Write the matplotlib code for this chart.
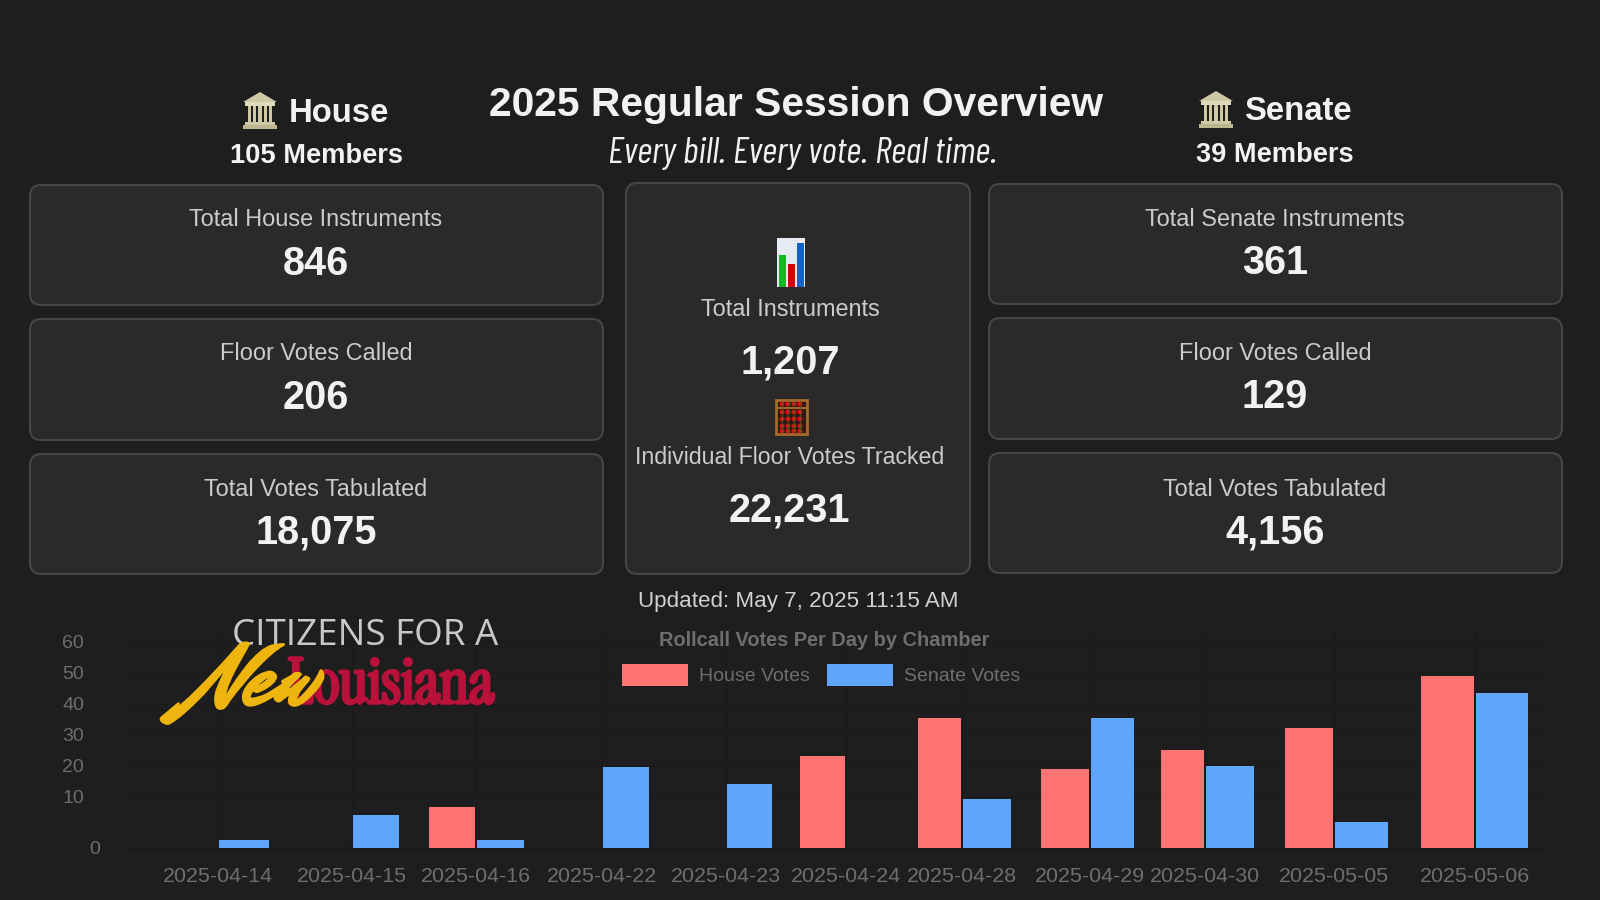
import matplotlib
matplotlib.use("Agg")
import matplotlib.pyplot as plt
import matplotlib.patheffects as pe
import numpy as np
from matplotlib.patches import FancyBboxPatch, Rectangle, Polygon, Circle
from matplotlib.transforms import ScaledTranslation

# values
dates = ["2025-04-14", "2025-04-15", "2025-04-16", "2025-04-22", "2025-04-23", "2025-04-24",
         "2025-04-28", "2025-04-29", "2025-04-30", "2025-05-05", "2025-05-06"]
house_votes = [0, 0, 8, 0, 0, 23, 35.5, 19, 25, 32, 49]
senate_votes = [1.5, 6.5, 1.5, 19.5, 14, 0, 9.5, 35.5, 20, 5, 43.5]
y_ticks = [0, 10, 20, 30, 40, 50, 60]

house_labels = ["Total House Instruments", "Floor Votes Called", "Total Votes Tabulated"]
house_stats = ["846", "206", "18,075"]
senate_labels = ["Total Senate Instruments", "Floor Votes Called", "Total Votes Tabulated"]
senate_stats = ["361", "129", "4,156"]

BG = "#1e1e1e"
CARD = "#2a2a2a"
EDGE = "#464646"
RED = "#ff7373"
BLUE = "#60a5fa"
MUTED = "#6e6e6e"
SANS = ["Liberation Sans", "DejaVu Sans"]
NARROW = ["Barlow Condensed", "Open Sans"]

plt.rcParams["font.family"] = SANS

fig = plt.figure(figsize=(16, 9), dpi=100, facecolor=BG)

# page layer in pixel coordinates
page = fig.add_axes([0, 0, 1, 1], zorder=1)
page.set_xlim(0, 1600)
page.set_ylim(900, 0)
page.axis("off")


def card(x0, y0, x1, y1):
    page.add_patch(FancyBboxPatch((x0, y0), x1 - x0, y1 - y0, boxstyle="round,pad=0,rounding_size=11",
                                  fc=CARD, ec=EDGE, lw=1.5))


def label(x, y, s, size=16.9, color="#cccccc", weight="normal"):
    page.text(x, y, s, ha="center", va="center", fontsize=size, color=color, fontweight=weight)


def value(x, y, s):
    page.text(x, y, s, ha="center", va="center", fontsize=28.5, color="#f2f2f2", fontweight="bold")


def building(x, y):
    # little capitol icon
    c = "#cfc8a4"
    page.add_patch(Polygon([[x, y + 10], [x + 17, y], [x + 34, y + 10]], fc=c, ec="none"))
    page.add_patch(Rectangle((x + 2, y + 10), 30, 4, fc="#e0dabb", ec="none"))
    for k in range(5):
        page.add_patch(Rectangle((x + 5 + k * 5.2, y + 14), 3.2, 16, fc=c, ec="none"))
    page.add_patch(Rectangle((x + 2, y + 30), 30, 3, fc=c, ec="none"))
    page.add_patch(Rectangle((x, y + 33), 34, 3.5, fc="#bdb690", ec="none"))


# left column
for (y0, y1), name, stat in zip([(185, 305), (319, 440), (454, 574)], house_labels, house_stats):
    card(30, y0, 603, y1)
    label(316, y0 + 35, name)
    value(316, y0 + 79, stat)

# right column
for (y0, y1), name, stat in zip([(184, 304), (318, 439), (453, 573)], senate_labels, senate_stats):
    card(989, y0, 1562, y1)
    label(1275, y0 + 36, name)
    value(1275, y0 + 79, stat)

# middle column
card(626, 183, 970, 574)
label(790, 309, "Total Instruments")
value(790, 363, "1,207")
label(790, 457, "Individual Floor Votes Tracked", size=16.7)
value(789, 511, "22,231")

# chart icon
page.add_patch(Rectangle((777, 238), 28, 49, fc="#e6ebf3", ec="none"))
page.add_patch(Rectangle((779, 255), 6.5, 32, fc="#10b82a", ec="none"))
page.add_patch(Rectangle((788, 264), 6.5, 23, fc="#c40a0a", ec="none"))
page.add_patch(Rectangle((797, 243), 6.5, 44, fc="#0f62c8", ec="none"))

# abacus icon
page.add_patch(Rectangle((776, 400), 31, 34, fc="#2b1c14", ec="#a8692a", lw=2))
page.plot([776, 807], [408, 408], color="#a8692a", lw=1.5)
for px in [782, 788, 794, 800]:
    page.plot([px, px], [401, 433], color="#6b4a2a", lw=0.6)
    for py in [404, 412, 419, 426, 431]:
        page.add_patch(Circle((px, py), 2.4, fc="#e01010", ec="none"))

# headers
building(243, 92)
page.text(339, 113, "House", ha="center", va="center", fontsize=23.7, color="#f2f2f2", fontweight="bold")
label(316, 156, "105 Members", size=19.6, color="#f2f2f2", weight="bold")
building(1199, 91)
page.text(1298, 112, "Senate", ha="center", va="center", fontsize=23.7, color="#f2f2f2", fontweight="bold")
label(1275, 155, "39 Members", size=19.6, color="#f2f2f2", weight="bold")
label(796, 105, "2025 Regular Session Overview", size=29.3, color="#f2f2f2", weight="bold")
page.text(802, 154, "Every bill. Every vote. Real time.", ha="center", va="center", fontsize=26.8,
          color="#f2f2f2", style="italic", family=NARROW)
label(798, 601, "Updated: May 7, 2025 11:15 AM", size=16.1, color="#d0d0d0")

# chart: both axes are bent the way the picture is bent
chart = fig.add_axes([127 / 1600, (900 - 848) / 900, (1545 - 127) / 1600, (848 - 632) / 900], zorder=2)
chart.patch.set_alpha(0)

x_in = [-1, 0, 1, 2, 3, 4, 5, 6, 7, 8, 9, 10, 11]
x_out = [84, 218, 352, 476, 602, 726, 846, 962, 1090, 1205, 1334, 1475, 1615]
y_in = [0, 10, 60, 70]
y_out = [0, 51, 206, 237]

chart.set_xscale("function", functions=(lambda v: np.interp(v, x_in, x_out),
                                        lambda v: np.interp(v, x_out, x_in)))
chart.set_yscale("function", functions=(lambda v: np.interp(v, y_in, y_out),
                                        lambda v: np.interp(v, y_out, y_in)))

pos = np.arange(len(dates))
chart.bar(pos - 0.195, house_votes, width=0.37, color=RED, label="House Votes", zorder=3)
chart.bar(pos + 0.195, senate_votes, width=0.37, color=BLUE, label="Senate Votes", zorder=3)

chart.set_xlim(-0.68, 10.5)
chart.set_ylim(0, 63)
chart.set_xticks(pos, dates)
chart.set_yticks(y_ticks)
chart.minorticks_off()
chart.tick_params(axis="x", length=0, pad=14, labelsize=15.4, labelcolor=MUTED)
chart.tick_params(axis="y", length=0, pad=31, labelsize=14, labelcolor=MUTED)
zero_label = chart.yaxis.get_ticklabels()[0]
zero_label.set_transform(zero_label.get_transform() + ScaledTranslation(16 / 100, 0, fig.dpi_scale_trans))
chart.grid(True, color="#1a1a1a", lw=1, zorder=0)
for side in ["top", "right", "left"]:
    chart.spines[side].set_visible(False)
chart.spines["bottom"].set_color("#191919")

chart.legend(loc="center", bbox_to_anchor=((821 - 127) / 1418, (848 - 675) / 216), ncols=2,
             frameon=True, facecolor=BG, edgecolor="none", framealpha=1,
             fontsize=14, labelcolor=MUTED, handlelength=3.4, handleheight=1.4, handletextpad=0.55,
             columnspacing=0.9, borderpad=0.1)

# logo and chart title on top
logo = fig.add_axes([0, 0, 1, 1], zorder=3)
logo.set_xlim(0, 1600)
logo.set_ylim(900, 0)
logo.axis("off")
logo.text(824, 640, "Rollcall Votes Per Day by Chamber", ha="center", va="center", fontsize=14.4, color=MUTED,
          fontweight="bold", bbox=dict(fc=BG, ec="none", pad=2))
logo.text(232, 645, "CITIZENS FOR A", fontsize=26.5, color="#c8c8c8", family=["Open Sans"], va="baseline")
logo.text(288, 703, "Louisiana", fontsize=45, color="#b8123a", family=["Instrument Serif", "Liberation Serif"],
          va="baseline", fontweight="bold", path_effects=[pe.withStroke(linewidth=2.5, foreground="#b8123a")])
logo.text(195, 704, "New", fontsize=66, color="#eeb50f", family=["Mr Dafoe", "Liberation Serif"],
          va="baseline", path_effects=[pe.withStroke(linewidth=1.5, foreground="#eeb50f")])

fig.savefig("out.png", dpi=100, facecolor=BG)
